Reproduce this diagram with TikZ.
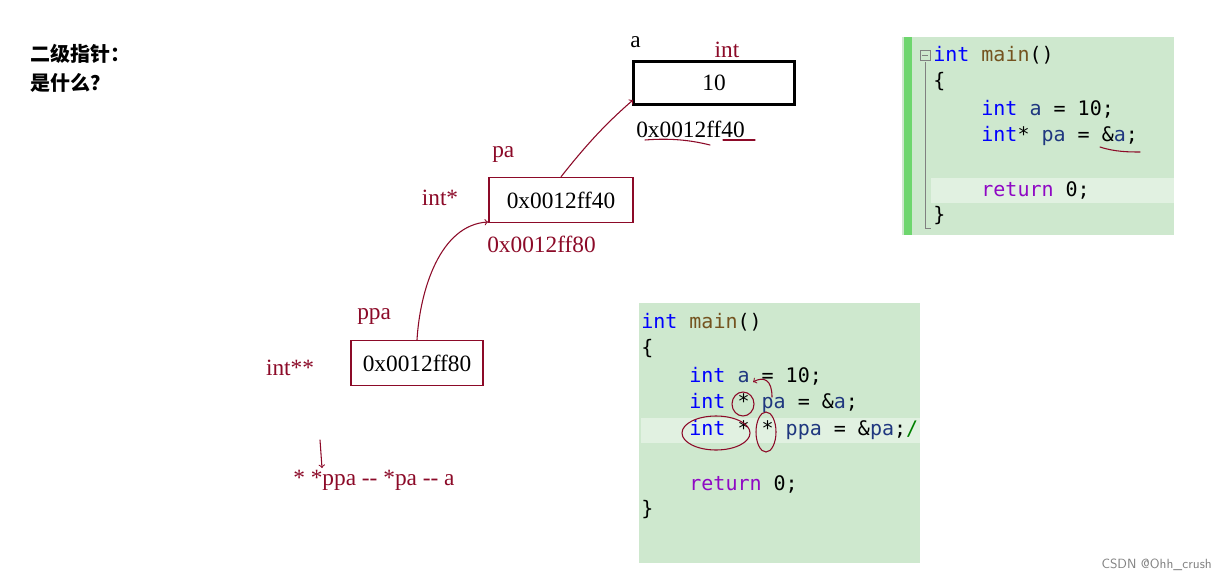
\documentclass[tikz,border=0pt]{standalone}
\usepackage{fontspec}
\setmonofont{DejaVu Sans Mono}
\newfontfamily\cjk{Noto Sans CJK SC}
\newfontfamily\lab{Liberation Serif}
\usetikzlibrary{positioning}
\definecolor{ink}{RGB}{140,10,40}
\definecolor{codebg}{RGB}{206,232,206}
\definecolor{kw}{RGB}{0,0,255}
\definecolor{fn}{RGB}{116,83,31}
\definecolor{vr}{RGB}{31,55,127}
\definecolor{rt}{RGB}{143,8,196}
\definecolor{bar}{RGB}{110,214,110}
\newcommand{\kw}[1]{\textcolor{kw}{#1}}
\newcommand{\vr}[1]{\textcolor{vr}{#1}}
\begin{document}
\begin{tikzpicture}[x=0.75pt,y=-0.75pt]
  \tikzstyle{every node}=[inner sep=0pt,font=\lab\fontsize{17.5}{20}\selectfont]
  \tikzstyle{cell}=[draw=ink,thick,minimum height=34pt,inner sep=4pt]
  \tikzstyle{lbl}=[text=ink]
  \tikzstyle{code}=[anchor=west,font=\fontsize{15}{17}\ttfamily]
  \tikzstyle{pen}=[ink,thick,line cap=round]
  \useasboundingbox (0,0) rectangle (1226,581);
  \fill[white] (0,0) rectangle (1226,581);
  % title
  \node[anchor=west,font=\cjk\bfseries\fontsize{15}{17}\selectfont] (title) at (30,54) {二级指针：};
  \node[anchor=west,font=\cjk\bfseries\fontsize{15}{17}\selectfont] (what) at (30,83) {是什么？};
  % memory cells
  \node[draw,line width=2pt,minimum width=121pt,minimum height=32pt] (a) at (714,83) {10};
  \node[anchor=west] (aname) at (630,42) {a};
  \node[lbl] (atype) at (727,50) {int};
  \node[anchor=west] (aaddr) at (636,129) {0x0012ff40};
  \node[cell,minimum width=108pt] (pa) at (561,200) {0x0012ff40};
  \node[lbl,anchor=west] (paname) at (492,154) {pa};
  \node[lbl] (patype) at (440,198) {int*};
  \node[lbl,anchor=west] (paaddr) at (487,244) {0x0012ff80};
  \node[cell,minimum width=99pt] (ppa) at (417,363) {0x0012ff80};
  \node[lbl,anchor=west] (ppaname) at (357,316) {ppa};
  \node[lbl] (ppatype) at (290,368) {int**};
  \node[lbl,anchor=west] (chain) at (293,480) {* *ppa -{}- *pa -{}- a};
  % hand drawn arrows
  \draw[pen,->] (ppa.north) .. controls (420,290) and (440,225) .. (488,222);
  \draw[pen,->] (pa.north) .. controls (590,140) and (610,120) .. (633,100);
  \draw[pen] (645,140) .. controls (670,138) and (690,140) .. (710,145);
  \draw[pen] (723,140) -- (755,140);
  \draw[pen,->] (320,440) -- (322,468);
  % first code box
  \fill[codebg] (902,37) rectangle (1174,235);
  \fill[bar] (904,37) rectangle (912,235);
  \fill[white,opacity=0.4] (931,178) rectangle (1174,203);
  \draw[gray] (920,50) rectangle (930,60);
  \draw[gray] (922,55) -- (928,55);
  \draw[gray] (925,62) -- (925,228) -- (931,228);
  \node[code] (c1) at (933,55) {\kw{int} \textcolor{fn}{main}()};
  \node[code] (c2) at (933,82) {\{};
  \node[code] (c3) at (933,109) {\hspace{4.4ex}\kw{int} \vr{a} = 10;};
  \node[code] (c4) at (933,136) {\hspace{4.4ex}\kw{int}* \vr{pa} = \&\vr{a};};
  \node[code] (c5) at (933,190) {\hspace{4.4ex}\textcolor{rt}{return} 0;};
  \node[code] (c6) at (933,216) {\}};
  \draw[pen] (1100,147) .. controls (1115,152) and (1130,152) .. (1140,152);
  % second code box
  \fill[codebg] (639,303) rectangle (920,563);
  \fill[white,opacity=0.4] (641,418) rectangle (920,443);
  \node[code] (d1) at (641,322) {\kw{int} \textcolor{fn}{main}()};
  \node[code] (d2) at (641,349) {\{};
  \node[code] (d3) at (641,376) {\hspace{4.4ex}\kw{int} \vr{a} = 10;};
  \node[code] (d4) at (641,403) {\hspace{4.4ex}\kw{int} * \vr{pa} = \&\vr{a};};
  \node[code] (d5) at (641,430) {\hspace{4.4ex}\kw{int} * * \vr{ppa} = \&\vr{pa};\textcolor{green!50!black}{/}};
  \node[code] (d6) at (641,484) {\hspace{4.4ex}\textcolor{rt}{return} 0;};
  \node[code] (d7) at (641,510) {\}};
  \draw[pen] (743,404) ellipse (11 and 12);
  \draw[pen] (716,433) ellipse (34 and 17);
  \draw[pen] (766,432) ellipse (10 and 20);
  \draw[pen,->] (772,397) .. controls (772,380) and (764,376) .. (753,382);
  % watermark
  \node[anchor=east,text=gray,font=\fontsize{10}{12}\sffamily] (mark) at (1212,565) {CSDN @Ohh\_crush};
\end{tikzpicture}
\end{document}
